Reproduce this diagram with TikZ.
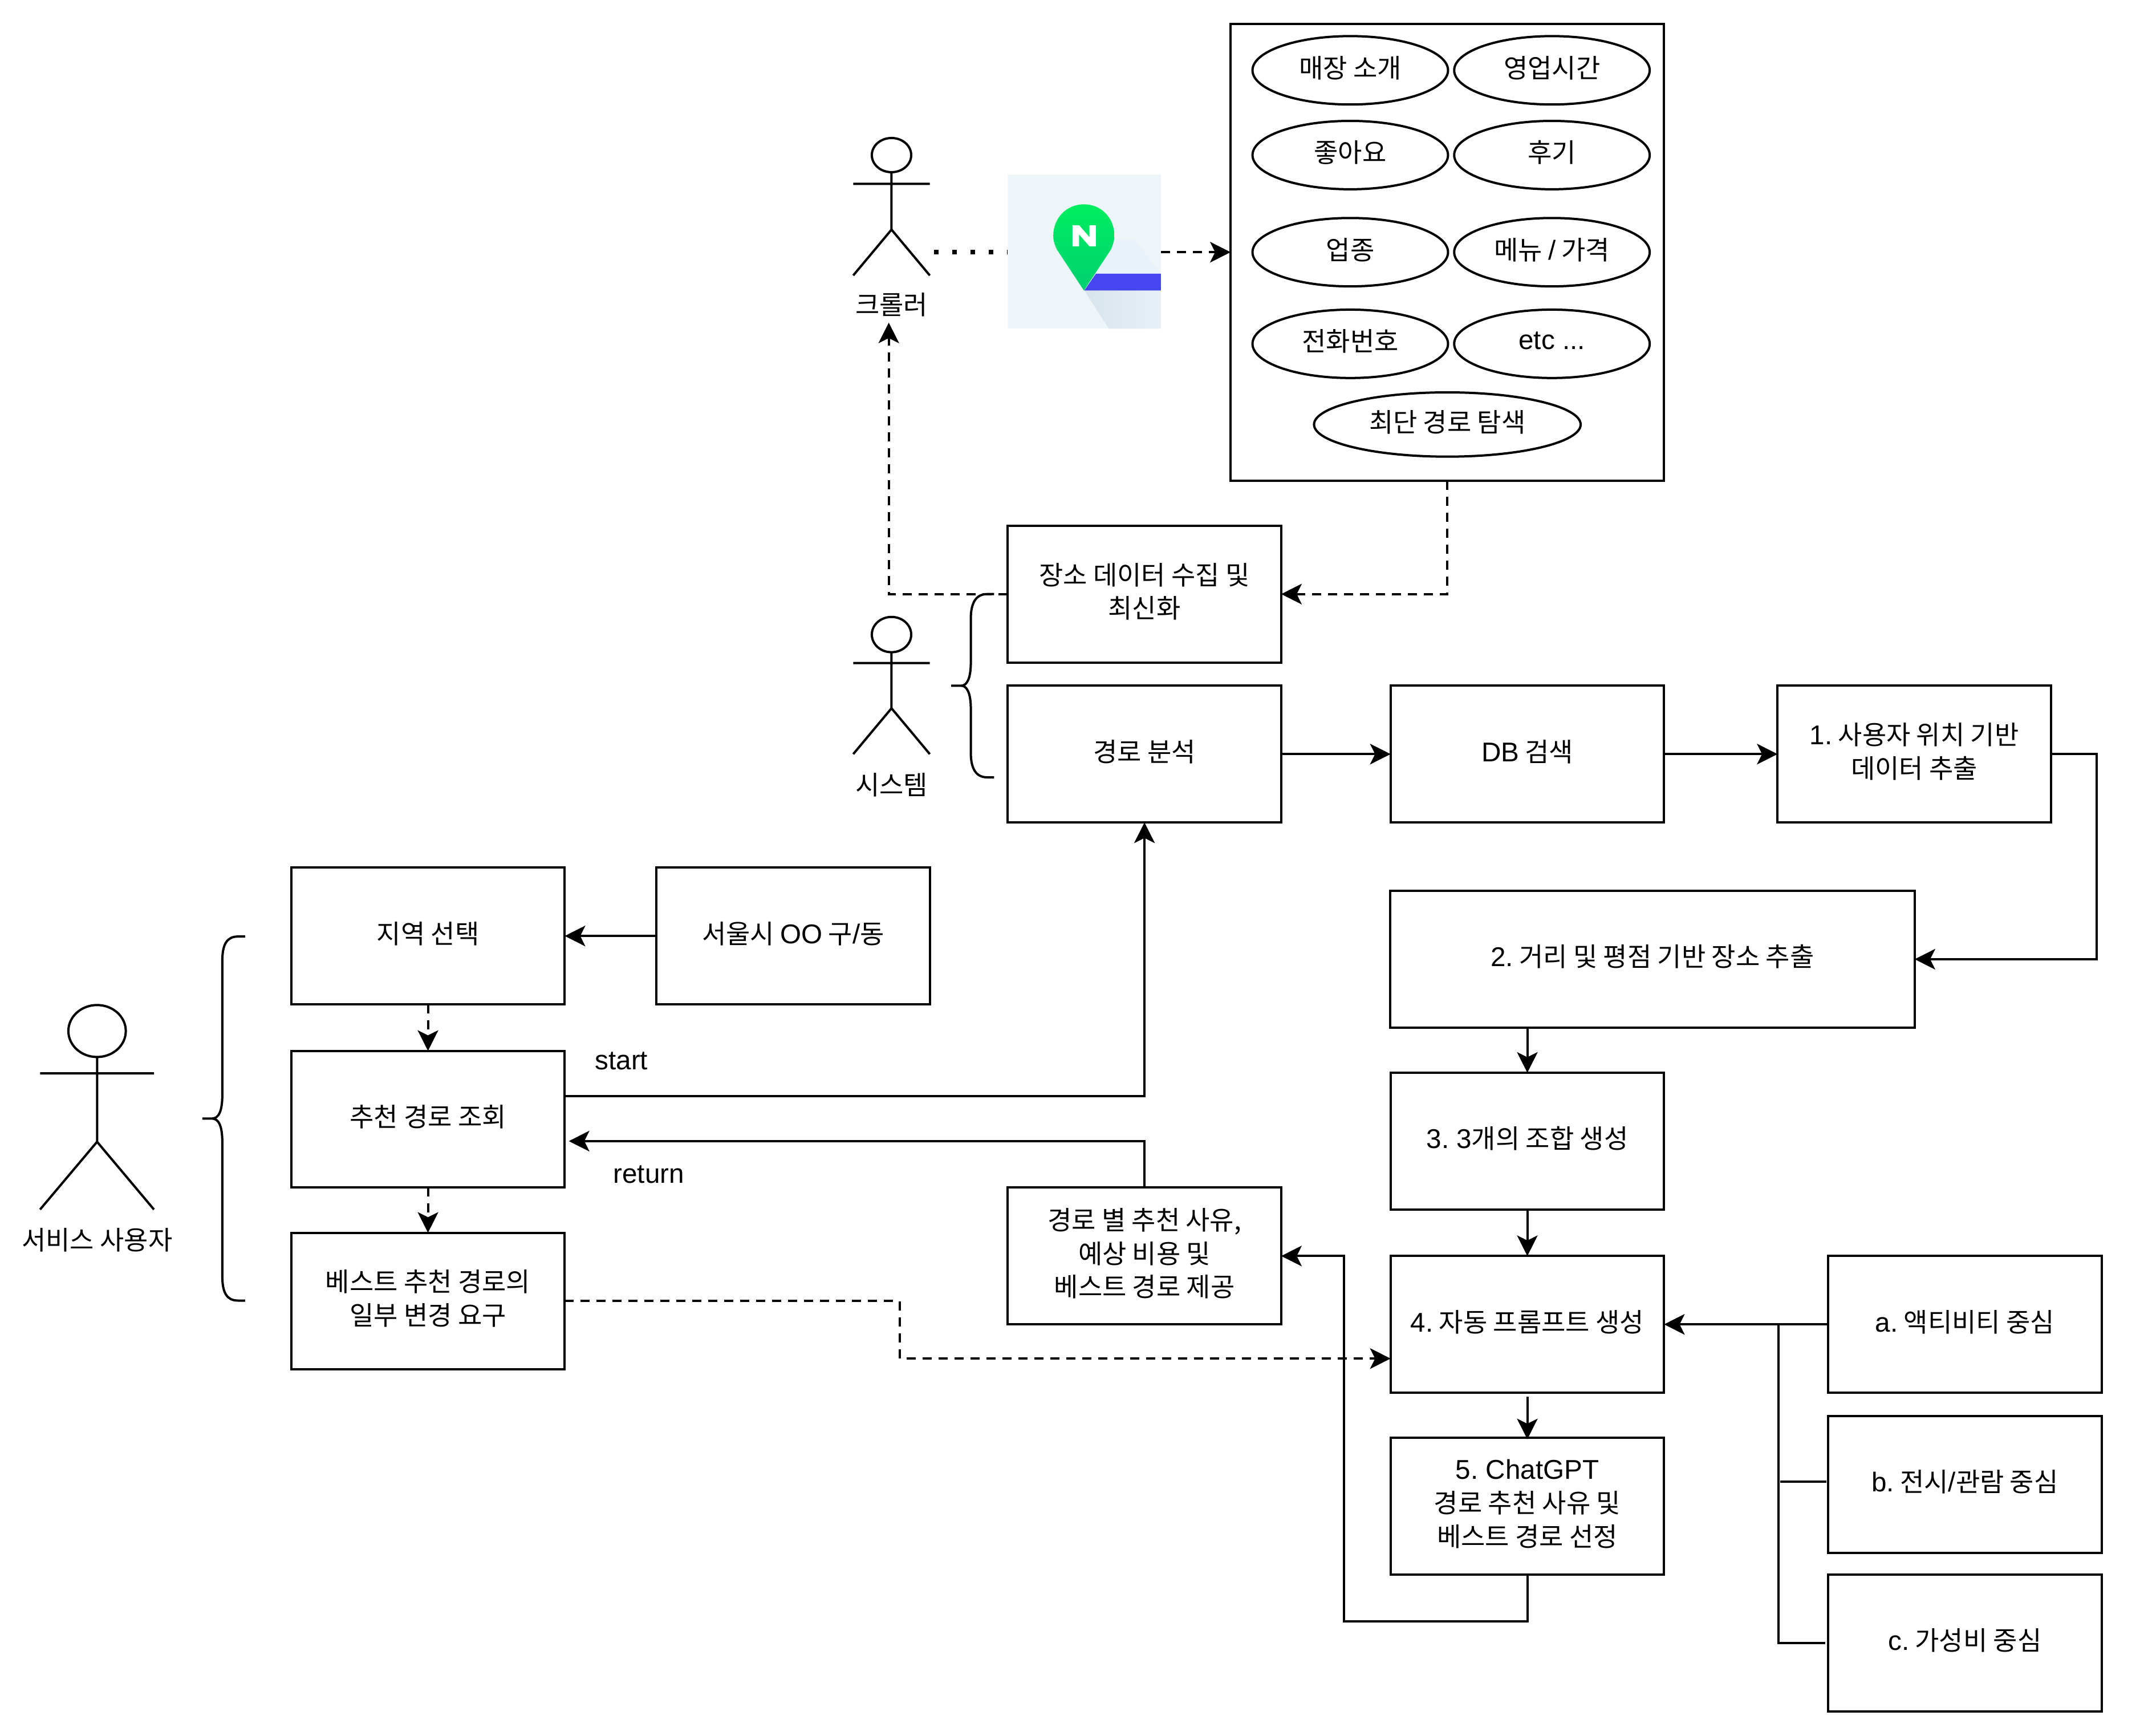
\documentclass[tikz,border=0pt]{standalone}
\usepackage{fontspec}
\usetikzlibrary{arrows.meta,shapes.geometric}
\setmainfont{Noto Sans CJK KR}
\newfontfamily\latf{Liberation Sans}
\frenchspacing
\newcommand{\lat}[1]{{\latf\fontsize{11.9}{14.7}\selectfont #1}}
\newcommand{\tb}{\\[-11.6pt]}
\def\pxu{0.5995pt}
\definecolor{pinbg}{HTML}{EDF5F9}
\definecolor{pinshadowa}{HTML}{D8E4EC}
\definecolor{pinshadowb}{HTML}{E6F0F6}
\definecolor{pinglow}{HTML}{E9F2FA}
\definecolor{pinblue}{HTML}{4646F5}
\definecolor{pintop}{HTML}{00EE60}
\definecolor{pinmid}{HTML}{00D63A}
\definecolor{pinlow}{HTML}{00D070}
\tikzset{
  every node/.style={font=\fontsize{11.5}{14.7}\selectfont\frenchspacing, outer sep=0pt, inner sep=0pt},
  stdbox/.style={draw=black, line width=1pt, fill=white, minimum width=200*\pxu, minimum height=100*\pxu, align=center},
  oval/.style={ellipse, draw=black, line width=1pt, fill=white, minimum width=143*\pxu, minimum height=50*\pxu, align=center},
  lbl/.style={align=center},
  conn/.style={line width=1pt, -{Stealth[length=9pt,width=9pt,inset=2.2pt]}},
  dconn/.style={conn, dash pattern=on 4pt off 3pt},
  plain/.style={line width=1pt},
  actorline/.style={line width=1pt},
  bracelike/.style={line width=1pt, line join=round}
}
\begin{document}
\begin{tikzpicture}[x=0.5995pt,y=-0.5995pt]
\useasboundingbox[fill=white] (0,-0.4) rectangle (1568,1269);

% map image
\begin{scope}
\clip (737,127) rectangle (849,240);
\fill[pinbg] (737,127) rectangle (849,240);
\fill[pinglow] (810,175) -- (830,175) -- (849,200) -- (801,200) -- cycle;
\shade[left color=pinshadowa, right color=pinshadowb] (793,212) -- (849,212) -- (849,240) -- (811,240) -- cycle;
\fill[pinblue] (793,212) -- (801.5,199.7) -- (849,199.7) -- (849,212) -- cycle;
\shade[top color=pintop, middle color=pinmid, bottom color=pinlow]
  (792.7,212) -- (772.9,182) .. controls (771,178) and (770.3,175) .. (770.3,172)
  .. controls (770.3,159) and (780,149) .. (792.7,149)
  .. controls (805.5,149) and (815,159) .. (815,172)
  .. controls (815,175) and (814.2,178) .. (812.5,182) -- cycle;
\fill[white] (784.4,179.7) -- (784.4,164.4) -- (789.3,164.4) -- (796.8,173) -- (796.8,164.4) -- (801.5,164.4)
  -- (801.5,179.7) -- (796.8,179.7) -- (789.2,171) -- (789.2,179.7) -- cycle;
\end{scope}
\coordinate (mapL) at (737,184);
\coordinate (mapR) at (849,184);

% crawler actor
\draw[actorline] (652,113) ellipse [x radius=14.4, y radius=12.5];
\draw[actorline] (652,125.5) -- (652,167.5) (624,134) -- (680,134) (624,201) -- (652,167.5) -- (680,201);
\node[lbl] (crawler) at (652,222.5) {크롤러};
\coordinate (crawlerR) at (683,184);
\coordinate (crawlerB) at (650,235.5);

% system actor
\draw[actorline] (652,463.6) ellipse [x radius=14.4, y radius=12.9];
\draw[actorline] (652,476.5) -- (652,517.5) (624,484.4) -- (680,484.4) (624,551) -- (652,517.5) -- (680,551);
\node[lbl] (system) at (652,573.5) {시스템};

% user actor
\draw[actorline] (71,753.5) ellipse [x radius=21, y radius=19];
\draw[actorline] (71,772.5) -- (71,834.5) (29.3,784.5) -- (112.6,784.5) (29.3,884) -- (71,834.5) -- (112.6,884);
\node[lbl] (user) at (71,906.5) {서비스 사용자};

% big box and ovals
\node[stdbox, minimum width=317*\pxu, minimum height=334*\pxu] (info) at (1058.5,184) {};
\node[oval] (o1) at (987.5,51) {매장 소개\tb};
\node[oval] (o2) at (1135,51) {영업시간\tb};
\node[oval] (o3) at (987.5,113) {좋아요\tb};
\node[oval] (o4) at (1135,113) {후기\tb};
\node[oval] (o5) at (987.5,184) {업종\tb};
\node[oval] (o6) at (1135,184) {메뉴 \lat{/} 가격\tb};
\node[oval] (o7) at (987.5,251) {전화번호\tb};
\node[oval] (o8) at (1135,251) {\lat{etc ...}\tb};
\node[oval, minimum width=195*\pxu, minimum height=47*\pxu] (o9) at (1058.5,310) {최단 경로 탐색\tb};

% boxes
\node[stdbox] (collect) at (837,434) {장소 데이터 수집 및\\최신화\tb};
\node[stdbox] (analysis) at (837,551) {경로 분석\tb};
\node[stdbox] (db) at (1117,551) {\lat{DB} 검색\tb};
\node[stdbox] (s1) at (1400,551) {\lat{1.} 사용자 위치 기반\\데이터 추출\tb};
\node[stdbox, minimum width=383.5*\pxu] (s2) at (1208.5,701) {\lat{2.} 거리 및 평점 기반 장소 추출\tb};
\node[stdbox] (s3) at (1117,834) {\lat{3. 3}개의 조합 생성\tb};
\node[stdbox] (s4) at (1117,968) {\lat{4.} 자동 프롬프트 생성\tb};
\node[stdbox] (s5) at (1117,1101) {\lat{5. ChatGPT}\\경로 추천 사유 및\\베스트 경로 선정\tb};
\node[stdbox] (ca) at (1437,968) {\lat{a.} 액티비티 중심\tb};
\node[stdbox] (cb) at (1437,1085) {\lat{b.} 전시\lat{/}관람 중심\tb};
\node[stdbox] (cc) at (1437,1201) {\lat{c.} 가성비 중심\tb};
\node[stdbox] (region) at (313,684) {지역 선택\tb};
\node[stdbox] (seoul) at (580,684) {서울시 \lat{OO} 구\lat{/}동\tb};
\node[stdbox] (query) at (313,818) {추천 경로 조회\tb};
\node[stdbox] (change) at (313,951) {베스트 추천 경로의\\일부 변경 요구\tb};
\node[stdbox] (reason) at (837,918) {경로 별 추천 사유,\\예상 비용 및\\베스트 경로 제공\tb};

\node[lbl] (startl) at (454.5,775.5) {\lat{start}};
\node[lbl] (returnl) at (474.5,858.5) {\lat{return}};

% braces
\draw[bracelike] (727,434) -- (722,434) .. controls (714,434) and (710,440) .. (710,452) -- (710,484)
  .. controls (710,496) and (707,501) .. (703,501) -- (695.6,501)
  (703,501) .. controls (707,501) and (710,506) .. (710,518) -- (710,550)
  .. controls (710,562) and (714,568) .. (722,568) -- (727,568);
\draw[bracelike] (179.3,684.4) -- (174,684.4) .. controls (166,684.4) and (162.6,690) .. (162.6,702) -- (162.6,800)
  .. controls (162.6,812) and (160,817.5) .. (155,817.5) -- (148,817.5)
  (155,817.5) .. controls (160,817.5) and (162.6,823) .. (162.6,835) -- (162.6,933)
  .. controls (162.6,945) and (166,950.6) .. (174,950.6) -- (179.3,950.6);

% connectors
\draw[dconn] (collect.west) -- (650,434) -- (crawlerB);
\draw[dconn] (info.south) |- (collect.east);
\draw[line width=2pt, dash pattern=on 2pt off 6pt] (crawlerR) -- (mapL);
\draw[dconn] (mapR) -- (info.west);
\draw[conn] (analysis.east) -- (db.west);
\draw[conn] (db.east) -- (s1.west);
\coordinate (s1turn) at (1533.5,551);
\coordinate (s2in) at (1533.5,701);
\draw[conn] (s1.east) -- (s1turn) -- (s2in) -- (s2.east);
\coordinate (s2out) at (s3.north |- s2.south);
\draw[conn] (s2out) -- (s3.north);
\draw[conn] (s3.south) -- (s4.north);
\coordinate (s4out) at (1117,1021);
\coordinate (s5in) at (1117,1052);
\draw[conn] (s4out) -- (s5in);
\draw[conn] (ca.west) -- (s4.east);
\coordinate (busTop) at (1300.5,968);
\coordinate (busBot) at (1300.5,1201);
\coordinate (ccEnd) at (1335,1201);
\draw[plain, line join=miter] (busTop) -- (busBot) -- (ccEnd);
\coordinate (cbStart) at (1302,1083);
\coordinate (cbEnd) at (1335.5,1083);
\draw[plain] (cbStart) -- (cbEnd);
\coordinate (s5a) at (1117,1185);
\coordinate (s5b) at (983,1185);
\coordinate (s5c) at (983,918);
\draw[conn] (s5.south) -- (s5a) -- (s5b) -- (s5c) -- (reason.east);
\coordinate (reasonA) at (837,834);
\coordinate (queryIn) at (416,834);
\draw[conn] (reason.north) -- (reasonA) -- (queryIn);
\coordinate (queryOut) at (413,801);
\coordinate (analysisA) at (837,801);
\draw[conn] (queryOut) -- (analysisA) -- (analysis.south);
\coordinate (chA) at (658,951);
\coordinate (chB) at (658,993);
\coordinate (s4in) at (1017,993);
\draw[dconn] (change.east) -- (chA) -- (chB) -- (s4in);
\draw[dconn] (region.south) -- (query.north);
\draw[dconn] (query.south) -- (change.north);
\draw[conn] (seoul.west) -- (region.east);
\end{tikzpicture}
\end{document}
